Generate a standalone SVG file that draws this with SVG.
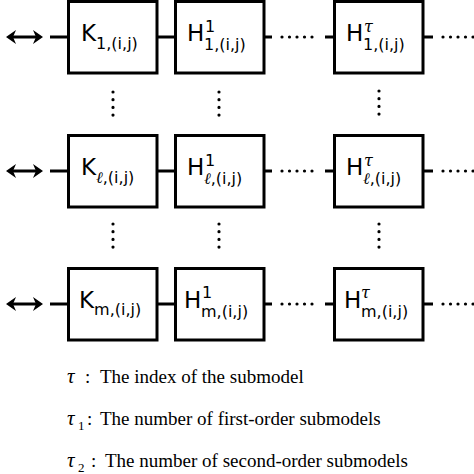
<svg xmlns="http://www.w3.org/2000/svg" width="474" height="474" viewBox="0 0 474 474">
<style>
.box{fill:#fff;stroke:#000;stroke-width:3}
.ln{stroke:#000;stroke-width:3;fill:none}
.dt{stroke:#000;stroke-width:3.2;stroke-linecap:round;stroke-dasharray:0 7.5;fill:none}
.vd{stroke:#000;stroke-width:3.2;stroke-linecap:round;stroke-dasharray:0 7.7;fill:none}
.lb{font-family:"DejaVu Sans",sans-serif;font-size:23px;fill:#000}
.sb{font-size:16px}
.it{font-family:"DejaVu Serif",serif;font-style:italic}
.lg{font-family:"Liberation Serif","Times New Roman",serif;font-size:19px;fill:#000}
.tau{font-style:italic;font-size:21px}
</style>
<defs>
<path id="dar" d="M6,37 L16,30 L13,37 L16,44 Z M43,37 L33,30 L36,37 L33,44 Z" fill="#000"/>
</defs>
<g id="connectors">
<g id="row1c">
<use href="#dar"/>
<line class="ln" x1="12" y1="37" x2="37" y2="37"/>
<line class="ln" x1="50" y1="37" x2="68" y2="37"/>
<line class="ln" x1="157" y1="37" x2="175" y2="37"/>
<line class="ln" x1="264" y1="37" x2="272" y2="37"/>
<line class="dt" x1="282" y1="37" x2="313" y2="37"/>
<line class="ln" x1="325" y1="37" x2="334" y2="37"/>
<line class="ln" x1="423" y1="37" x2="433" y2="37"/>
<line class="dt" x1="443" y1="37" x2="474" y2="37"/>
</g>
<g id="row2c" transform="translate(0,134)">
<use href="#dar"/>
<line class="ln" x1="12" y1="37" x2="37" y2="37"/>
<line class="ln" x1="50" y1="37" x2="68" y2="37"/>
<line class="ln" x1="157" y1="37" x2="175" y2="37"/>
<line class="ln" x1="264" y1="37" x2="272" y2="37"/>
<line class="dt" x1="282" y1="37" x2="313" y2="37"/>
<line class="ln" x1="325" y1="37" x2="334" y2="37"/>
<line class="ln" x1="423" y1="37" x2="433" y2="37"/>
<line class="dt" x1="443" y1="37" x2="474" y2="37"/>
</g>
<g id="row3c" transform="translate(0,267)">
<use href="#dar"/>
<line class="ln" x1="12" y1="37" x2="37" y2="37"/>
<line class="ln" x1="50" y1="37" x2="68" y2="37"/>
<line class="ln" x1="157" y1="37" x2="175" y2="37"/>
<line class="ln" x1="264" y1="37" x2="272" y2="37"/>
<line class="dt" x1="282" y1="37" x2="313" y2="37"/>
<line class="ln" x1="325" y1="37" x2="334" y2="37"/>
<line class="ln" x1="423" y1="37" x2="433" y2="37"/>
<line class="dt" x1="443" y1="37" x2="474" y2="37"/>
</g>
<g id="vdots">
<line class="vd" x1="113" y1="92" x2="113" y2="116"/>
<line class="vd" x1="219" y1="92" x2="219" y2="116"/>
<line class="vd" x1="379" y1="91" x2="379" y2="115"/>
<line class="vd" x1="113" y1="224" x2="113" y2="248"/>
<line class="vd" x1="219" y1="224" x2="219" y2="248"/>
<line class="vd" x1="379" y1="224" x2="379" y2="248"/>
</g>
</g>
<g id="K1"><rect class="box" x="68.5" y="1.5" width="88.5" height="71.5"/>
<text class="lb" x="81" y="41">K<tspan class="sb" dy="8">1,(i,j)</tspan></text></g>
<g id="H1_1"><rect class="box" x="175.5" y="1.5" width="88.5" height="71.5"/>
<text class="lb" x="187" y="41">H<tspan class="sb" x="205" y="32">1</tspan><tspan class="sb" x="204" y="50">1,(i,j)</tspan></text></g>
<g id="Htau_1"><rect class="box" x="334.5" y="1.5" width="88.5" height="71.5"/>
<text class="lb" x="346" y="41">H<tspan class="sb it" x="364" y="32">τ</tspan><tspan class="sb" x="363" y="50">1,(i,j)</tspan></text></g>

<g id="Kl"><rect class="box" x="68.5" y="135.5" width="88.5" height="71.5"/>
<text class="lb" x="81" y="175">K<tspan class="sb it" dy="8">ℓ</tspan><tspan class="sb">,(i,j)</tspan></text></g>
<g id="H1_l"><rect class="box" x="175.5" y="135.5" width="88.5" height="71.5"/>
<text class="lb" x="187" y="175">H<tspan class="sb" x="205" y="166">1</tspan><tspan class="sb it" x="204" y="184">ℓ</tspan><tspan class="sb">,(i,j)</tspan></text></g>
<g id="Htau_l"><rect class="box" x="334.5" y="135.5" width="88.5" height="71.5"/>
<text class="lb" x="346" y="175">H<tspan class="sb it" x="364" y="166">τ</tspan><tspan class="sb it" x="363" y="184">ℓ</tspan><tspan class="sb">,(i,j)</tspan></text></g>

<g id="Km"><rect class="box" x="68.5" y="268.5" width="88.5" height="71.5"/>
<text class="lb" x="79" y="308">K<tspan class="sb" dy="7">m,(i,j)</tspan></text></g>
<g id="H1_m"><rect class="box" x="175.5" y="268.5" width="88.5" height="71.5"/>
<text class="lb" x="184" y="308">H<tspan class="sb" x="202" y="298">1</tspan><tspan class="sb" x="201" y="317">m,(i,j)</tspan></text></g>
<g id="Htau_m"><rect class="box" x="334.5" y="268.5" width="88.5" height="71.5"/>
<text class="lb" x="344" y="308">H<tspan class="sb it" x="361" y="298">τ</tspan><tspan class="sb" x="361" y="317">m,(i,j)</tspan></text></g>

<g id="legend">
<text class="lg" x="67" y="383"><tspan class="tau">τ</tspan><tspan x="85">:</tspan><tspan x="100">The index of the submodel</tspan></text>
<text class="lg" x="67" y="425"><tspan class="tau">τ</tspan><tspan x="78" y="430" font-size="13">1</tspan><tspan x="87" y="425">:</tspan><tspan x="100">The number of first-order submodels</tspan></text>
<text class="lg" x="67" y="467"><tspan class="tau">τ</tspan><tspan x="78" y="472" font-size="13">2</tspan><tspan x="91" y="467">:</tspan><tspan x="105">The number of second-order submodels</tspan></text>
</g>
</svg>
